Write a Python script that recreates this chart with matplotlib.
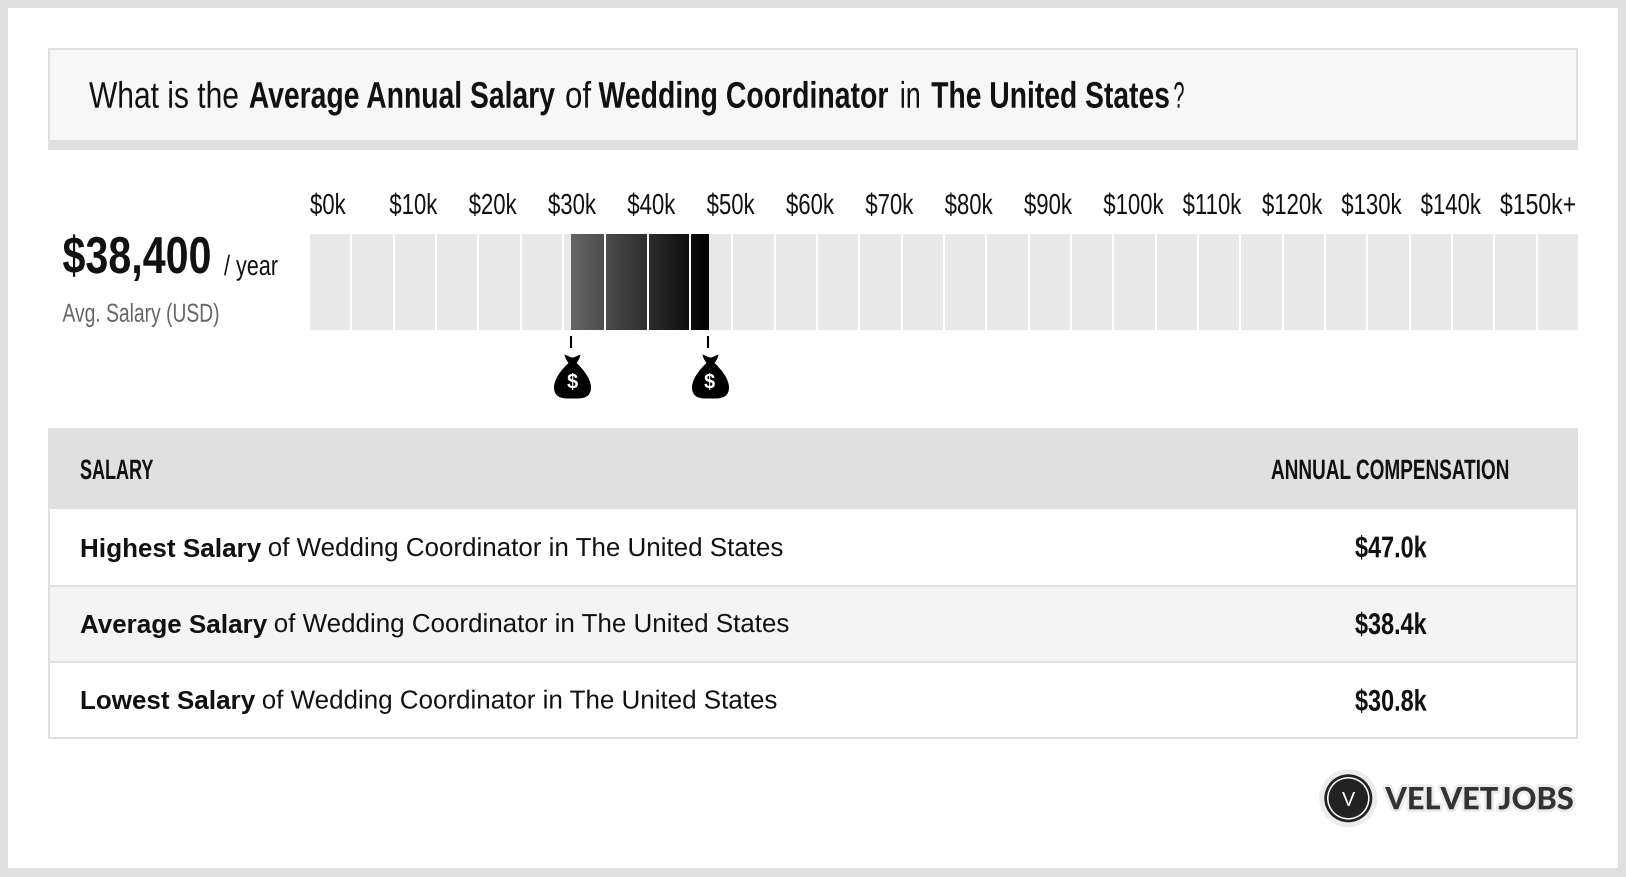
import numpy as np
import matplotlib
matplotlib.use("Agg")
import matplotlib.pyplot as plt
from matplotlib.colors import LinearSegmentedColormap
from matplotlib.patches import Circle, Rectangle
from matplotlib.path import Path
from matplotlib.patheffects import AbstractPathEffect, withStroke
from matplotlib.text import Text
from matplotlib.transforms import Affine2D, Bbox

# Data
job = "Wedding Coordinator"
place = "The United States"
average_salary = 38400
row_names = ["Highest Salary", "Average Salary", "Lowest Salary"]
row_values = [47.0, 38.4, 30.8]
tick_labels = ["$0k", "$10k", "$20k", "$30k", "$40k", "$50k", "$60k", "$70k", "$80k",
               "$90k", "$100k", "$110k", "$120k", "$130k", "$140k", "$150k+"]
cell_starts = list(range(0, 150, 5))
low_salary = 30.8
high_salary = 47.0

GREY = "#e0e0e0"
NARROW = ["Liberation Sans Narrow", "Liberation Sans"]
SANS = ["Liberation Sans"]
SHIFT = 1  # whole page sits one pixel lower

fig = plt.figure(figsize=(16.26, 8.78), dpi=100, facecolor=GREY)

# page axes, one unit is one pixel
ax = fig.add_axes([0, 0, 1, 1])
ax.set_xlim(0, 1626)
ax.set_ylim(878 - SHIFT, -SHIFT)
ax.axis("off")
renderer = fig.canvas.get_renderer()


class Squeeze(AbstractPathEffect):
    # the reference font is narrower than anything installed
    def __init__(self, sx):
        super().__init__()
        self.sx = sx

    def draw_path(self, renderer, gc, tpath, affine, rgbFace=None):
        renderer.draw_path(gc, tpath, Affine2D().scale(self.sx, 1) + affine, rgbFace)


class NarrowText(Text):
    sx = 1.0

    def squeeze(self, sx):
        self.sx = sx
        self.set_path_effects([Squeeze(sx)])

    def _get_layout(self, renderer):
        b, info, descent = super()._get_layout(renderer)
        return Bbox.from_bounds(b.x0, b.y0, b.width * self.sx, b.height), info, descent


def label(x, y, s, px, weight="normal", width=None, color="#111111", family=NARROW):
    t = NarrowText(x, y, s, fontsize=px * 0.72, fontweight=weight, family=family,
                   color=color, ha="left", va="baseline", zorder=5)
    ax.add_artist(t)
    if width:
        t.squeeze(width / t.get_window_extent(renderer).width)
    return t


def box(x0, y0, x1, y1, color, z=1):
    ax.add_patch(Rectangle((x0, y0), x1 - x0, y1 - y0, facecolor=color, edgecolor="none", zorder=z))


box(8, 8, 1618, 868, "white", 0)

# Title box
box(48, 48, 1578, 150, GREY)
box(50, 50, 1576, 140, "#f7f7f7")
label(89, 107.7, "What is the", 37, width=150)
label(248.8, 107.7, "Average Annual Salary", 37, "bold", width=306.5)
label(565, 107.7, "of", 37, width=26)
label(598.5, 107.7, job, 37, "bold", width=290)
label(899.8, 107.7, "in", 37, width=21)
label(931.2, 107.7, place, 37, "bold", width=239)
label(1173.4, 107.7, "?", 37, width=11)

# Left summary
label(62.5, 273, f"${average_salary:,}", 52, "bold", width=149)
label(224, 275, "/ year", 28, width=54)
label(62.5, 321.7, "Avg. Salary (USD)", 26, width=157, color="#666666")

# Scale labels are spread evenly along the bar, not tied to its cells
probe = label(0, 0, "$10k", 29)
tick_sx = 48 / probe.get_window_extent(renderer).width
probe.remove()
for i, s in enumerate(tick_labels):
    t = label(310 + i * 79.33, 214, s, 29)
    t.squeeze(tick_sx * (1.04 if s.endswith("+") else 1))

# Salary bar
gap = 5 * 2 / 42.33
bar = fig.add_axes([310 / 1626, 1 - (400 + SHIFT) / 878, 1268 / 1626, 166 / 878])
bar.axis("off")
bar.bar(cell_starts, 96, width=5 - gap, bottom=234, align="edge", color="#e8e8e8", zorder=1)
fade = LinearSegmentedColormap.from_list("fade", ["#666666", "#000000"])
bar.imshow(np.linspace(0, 1, 256).reshape(1, -1), cmap=fade, aspect="auto",
           extent=(low_salary, high_salary, 330, 234), zorder=2)
bar.bar([c + 5 - gap for c in cell_starts[:-1]], 96, width=gap, bottom=234, align="edge",
        color="white", zorder=3)
bar.set_xlim(0, 150 - gap)
bar.set_ylim(400, 234)

# Money bag markers
s = 22
bag_verts = [(-8, s), (-4, s - 1.5), (-2, s - 3), (0, s - 3), (2, s - 3), (4, s - 1.5), (8, s),
             (7, 17), (5, 15), (4, 13.5),
             (10, 8), (18.5, -2), (18.5, -11),
             (18.5, -19), (13, -22), (5, -22),
             (-5, -22), (-5, -22), (-5, -22),
             (-13, -22), (-18.5, -19), (-18.5, -11),
             (-18.5, -2), (-10, 8), (-4, 13.5),
             (-5, 15), (-7, 17), (-8, s)]
bag_codes = [Path.MOVETO] + [Path.CURVE4] * (len(bag_verts) - 1)
bag = Path(bag_verts, bag_codes)
for v in [low_salary, high_salary]:
    bar.vlines(v, 336, 348, color="black", lw=1.5, zorder=4)
    bar.plot([v + 0.2], [376], marker=bag, markersize=44 * 0.72, color="black",
             markeredgewidth=0, linestyle="none", zorder=4, clip_on=False)
    bar.text(v + 0.2, 382, "$", fontsize=14.5, fontweight="bold", family=SANS, color="white",
             ha="center", va="center", zorder=5)

# Table
box(48, 428, 1578, 739, GREY)
box(50, 509, 1576, 585, "white")
box(50, 587, 1576, 661, "#f4f4f4")
box(50, 663, 1576, 737, "white")
label(80, 479, "SALARY", 28, "bold", width=73.5)
label(1271, 479, "ANNUAL COMPENSATION", 28, "bold", width=238.5)

text_baselines = [556, 632, 708.5]
value_baselines = [557.3, 634, 710.7]
for name, value, yt, yv in zip(row_names, row_values, text_baselines, value_baselines):
    t = label(80, yt, name, 26, "bold", family=SANS)
    end = t.get_window_extent(renderer).x1
    label(end + 6.5, yt, f"of {job} in {place}", 26, width=516.5, family=SANS)
    label(1355, yv, f"${value:.1f}k", 30, "bold", width=71.7)

# Logo
ax.add_patch(Circle((1348.3, 798.3), 29, facecolor="#ececec", edgecolor="none", zorder=2))
ax.add_patch(Circle((1348.3, 798.3), 24, facecolor="#222222", edgecolor="none", zorder=3))
ax.add_patch(Circle((1348.3, 798.3), 20.5, facecolor="none", edgecolor="white", lw=1.1, zorder=4))
ax.text(1348.3, 805, "V", fontsize=14, family=["Lato"], color="white", ha="center", va="baseline", zorder=5)
logo = ax.text(1385.3, 809.3, "VELVETJOBS", fontsize=30 * 0.72, fontweight="black", family=["Lato"],
               color="#333333", ha="left", va="baseline", zorder=5)
logo.set_fontsize(logo.get_fontsize() * 188.4 / logo.get_window_extent(renderer).width)
logo.set_path_effects([withStroke(linewidth=4, foreground="#ececec")])

fig.savefig("out.png", dpi=100, facecolor=fig.get_facecolor())
